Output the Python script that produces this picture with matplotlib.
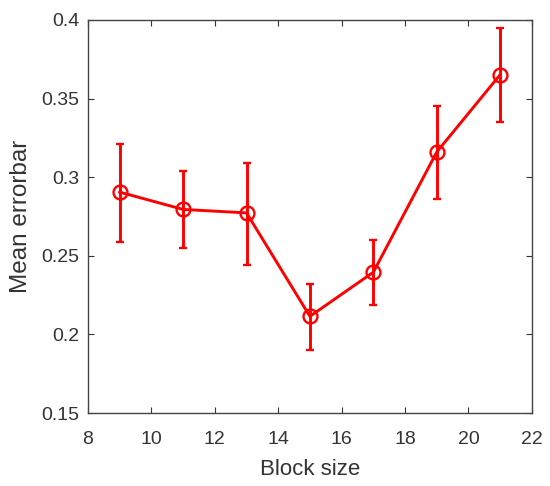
import matplotlib
matplotlib.use("Agg")
import matplotlib.pyplot as plt
import numpy as np

block_size = [9, 11, 13, 15, 17, 19, 21]
mean_err = [0.2905, 0.2795, 0.2773, 0.2115, 0.2396, 0.316, 0.3652]
upper = [0.321, 0.304, 0.309, 0.232, 0.260, 0.345, 0.395]
lower = [0.259, 0.255, 0.2444, 0.190, 0.219, 0.286, 0.335]

plt.rcParams['font.family'] = ['Liberation Sans', 'DejaVu Sans']
fig = plt.figure(figsize=(5.5, 4.86), dpi=100)
ax = fig.add_axes([0.160, 0.150, 0.807, 0.809])

y = np.array(mean_err)
yerr = np.vstack([y - np.array(lower), np.array(upper) - y])
ax.errorbar(block_size, y, yerr=yerr, color='red', lw=2.1, marker='o', ms=10,
            mfc='none', mew=1.7, capsize=3.2, capthick=2.1, elinewidth=2.1)

ax.set_xlim(8, 22)
ax.set_ylim(0.15, 0.4)
ax.set_xticks(np.arange(8, 23, 2))
ax.set_yticks([0.15, 0.2, 0.25, 0.3, 0.35, 0.4])
ax.set_yticklabels(['0.15', '0.2', '0.25', '0.3', '0.35', '0.4'])
ax.tick_params(direction='in', top=True, right=True, labelsize=14,
               colors='#333333', length=4)
ax.tick_params(axis='x', pad=13)
ax.tick_params(axis='y', pad=6)
for s in ax.spines.values():
    s.set_color('#444444')
    s.set_linewidth(1)
ax.set_xlabel('Block size', fontsize=16, color='#333333')
ax.set_ylabel('Mean errorbar', fontsize=17.5, color='#333333')
ax.xaxis.label.set_va('center')
ax.yaxis.label.set_va('center')
ax.xaxis.set_label_coords(0.5, -0.143)
ax.yaxis.set_label_coords(-0.152, 0.5)
fig.savefig('out.png', dpi=100)
